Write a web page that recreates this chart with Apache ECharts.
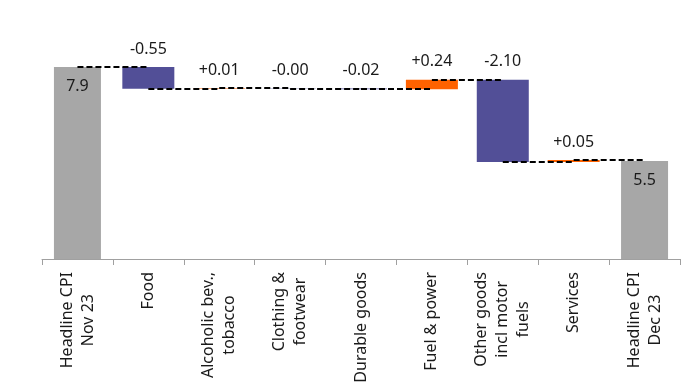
<!DOCTYPE html>
<html>
<head>
<meta charset="utf-8">
<script src="https://cdn.jsdelivr.net/npm/echarts@6/dist/echarts.min.js"></script>
<style>html,body{margin:0;padding:0;background:#fff;}#c{width:694px;height:392px;}</style>
</head>
<body>
<div id="c"></div>
<script>
const categories = ['Headline CPI\nNov 23', 'Food', 'Alcoholic bev.,\ntobacco', 'Clothing &\nfootwear', 'Durable goods', 'Fuel & power', 'Other goods\nincl motor\nfuels', 'Services', 'Headline CPI\nDec 23'];
const startTotal = 7.9;
const endTotal = 5.5;
const changes = [-0.55, 0.01, -0.004, -0.02, 0.24, -2.10, 0.05];

const FONT = '"Noto Sans", sans-serif';
const GRAY = '#a7a7a7', PURPLE = '#524f97', ORANGE = '#ff6200';
const TXT = '#1a1a1a';

const n = categories.length;
const totals = categories.map((c, i) => i === 0 ? startTotal : (i === n - 1 ? endTotal : '-'));
const base = ['-'], delta = ['-'], levels = [startTotal];
let level = startTotal;
changes.forEach((d, k) => {
  const next = level + d;
  base.push(Math.min(level, next));
  delta.push({ value: Math.abs(d), itemStyle: { color: d >= 0 ? ORANGE : PURPLE }, change: d });
  level = next;
  levels.push(level);
});
base.push('-'); delta.push('-');

const connectors = [];
for (let i = 0; i < n - 1; i++) {
  connectors.push([{ coord: [i, levels[i]] }, { coord: [i + 1, levels[i]] }]);
}

const chart = echarts.init(document.getElementById('c'));
chart.setOption({
  animation: false,
  grid: { left: 42, right: 14, top: 24, bottom: 133 },
  xAxis: [{
    type: 'category', data: categories,
    axisLine: { lineStyle: { color: '#a0a0a0', width: 1 } },
    axisTick: { show: true, length: 6, lineStyle: { color: '#a0a0a0' } },
    axisLabel: {
      rotate: 90, margin: 13, interval: 0,
      formatter: v => v.split('\n').map(l => '{c|' + l + '}').join('\n'),
      rich: { c: { align: 'center', fontSize: 16, lineHeight: 21, fontFamily: FONT, color: TXT } }
    }
  }, {
    type: 'category', data: categories, show: false
  }],
  yAxis: { type: 'value', min: 3, max: 9, show: false, splitLine: { show: false } },
  series: [{
    type: 'bar', xAxisIndex: 1, data: totals, barWidth: 47,
    itemStyle: { color: GRAY },
    label: { show: true, position: 'insideTop', distance: 11, fontSize: 16, fontFamily: FONT, color: TXT,
      formatter: p => p.value.toFixed(1) },
    z: 2
  }, {
    type: 'bar', stack: 'w', data: base, barWidth: 52,
    itemStyle: { color: 'transparent' }, silent: true
  }, {
    type: 'bar', stack: 'w', data: delta, barWidth: 52,
    label: { show: true, position: 'top', distance: 10, fontSize: 16, fontFamily: FONT, color: TXT,
      formatter: p => { const d = p.data.change; return (d >= 0 ? '+' : '') + d.toFixed(2); } },
    markLine: {
      silent: true, symbol: 'none', z: 10,
      label: { show: false },
      lineStyle: { color: '#000', width: 2, type: [6, 3] },
      data: connectors
    }
  }]
});
</script>
</body>
</html>
